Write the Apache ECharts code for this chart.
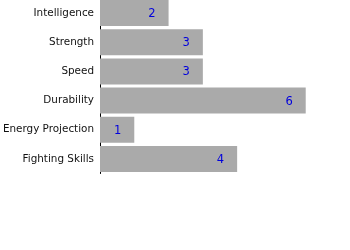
<!DOCTYPE html>
<html>
<head>
<meta charset="utf-8">
<script src="https://cdn.jsdelivr.net/npm/echarts@6/dist/echarts.min.js"></script>
<style>html,body{margin:0;padding:0;background:#fff}#c{width:350px;height:250px}</style>
</head>
<body>
<div id="c"></div>
<script>
const categories = ["Intelligence", "Strength", "Speed", "Durability", "Energy Projection", "Fighting Skills"];
const values = [2, 3, 3, 6, 1, 4];

const chart = echarts.init(document.getElementById('c'), null, {renderer: 'canvas'});
chart.setOption({
  animation: false,
  backgroundColor: '#ffffff',
  grid: {left: 100, top: -1.5, width: 240, height: 175, containLabel: false, outerBoundsMode: 'none'},
  xAxis: {
    type: 'value', min: 0, max: 7, show: false
  },
  yAxis: {
    type: 'category', data: categories, inverse: true,
    axisLine: {show: true, lineStyle: {color: '#000', width: 1}},
    axisTick: {show: false},
    axisLabel: {color: '#111', fontFamily: 'DejaVu Sans', fontSize: 10.4, margin: 6},
    splitLine: {show: false}
  },
  series: [{
    type: 'bar',
    data: values,
    barWidth: 26,
    itemStyle: {color: '#aaaaaa'},
    label: {
      show: true, position: 'insideRight', distance: 13, offset: [0, 1],
      color: '#0000dd', fontFamily: 'DejaVu Sans', fontSize: 11.5, fontWeight: 'normal'
    }
  }]
});
</script>
</body>
</html>
